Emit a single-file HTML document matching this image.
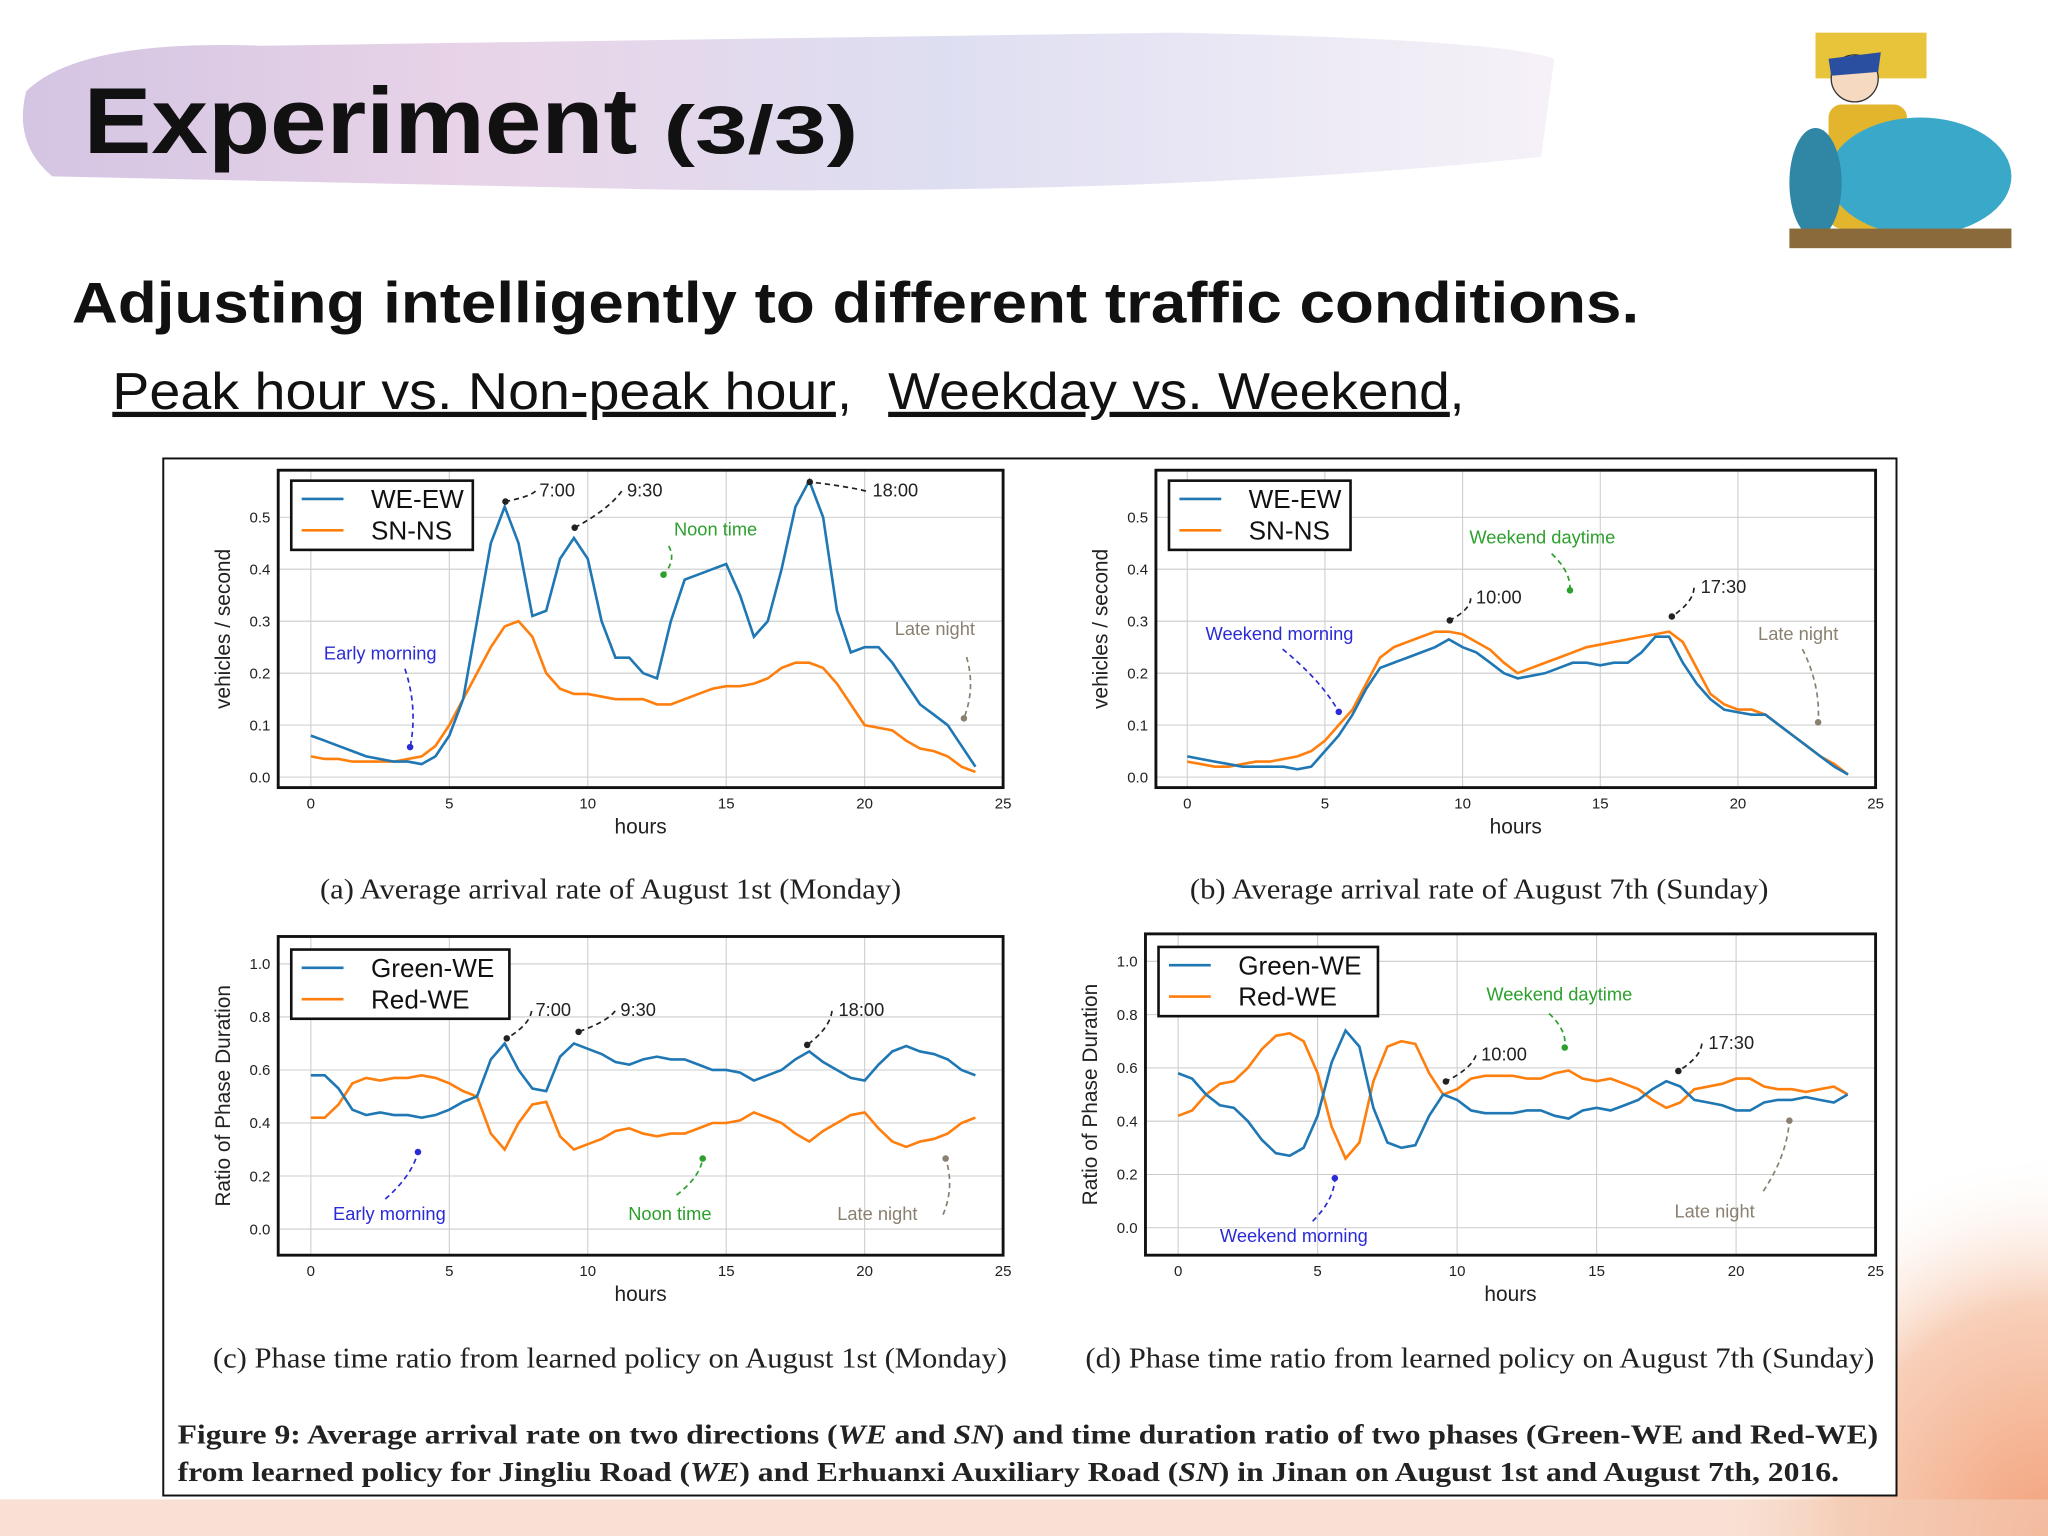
<!DOCTYPE html>
<html><head><meta charset="utf-8">
<style>
html,body{margin:0;padding:0;background:#fff;}
svg{display:block;}
</style></head>
<body>
<svg id="s" width="2048" height="1536" viewBox="0 0 1568 1176" xmlns="http://www.w3.org/2000/svg" font-family="Liberation Sans, sans-serif">
<defs>
<linearGradient id="ban" x1="0" y1="0" x2="1" y2="0">
<stop offset="0" stop-color="#c9b6dc"/><stop offset="0.3" stop-color="#e3c9e2"/><stop offset="0.6" stop-color="#d6d6ee"/><stop offset="1" stop-color="#f4eef6"/>
</linearGradient>
<radialGradient id="org" cx="1" cy="1" r="1">
<stop offset="0" stop-color="#f08a5a"/><stop offset="0.6" stop-color="#f6c4a8"/><stop offset="1" stop-color="#fff" stop-opacity="0"/>
</radialGradient>
</defs>
<rect width="1568" height="1176" fill="#fff"/>
<path d="M20,70 Q60,30 200,35 L900,25 Q1150,30 1190,45 L1180,120 Q900,150 500,145 L40,135 Q10,110 20,70Z" fill="url(#ban)" opacity="0.8"/>
<rect x="1300" y="880" width="268" height="296" fill="url(#org)" opacity="0.8"/>
<rect x="0" y="1148" width="1568" height="28" fill="#f3cdb7" opacity="0.6"/>
<g>
<rect x="1390" y="25" width="85" height="35" fill="#e8c43a"/>
<rect x="1400" y="80" width="60" height="95" rx="10" fill="#e3b52c"/>
<circle cx="1420" cy="60" r="18" fill="#f5d9c0" stroke="#333"/>
<path d="M1400,45 L1440,40 L1438,55 L1402,58Z" fill="#2b4fa0"/>
<ellipse cx="1470" cy="135" rx="70" ry="45" fill="#3aa9c9"/>
<ellipse cx="1390" cy="140" rx="20" ry="42" fill="#2f86a5"/>
<rect x="1370" y="175" width="170" height="15" fill="#8a6a3a"/>
</g>
<text x="64" y="117" font-size="72" font-weight="bold" fill="#111" textLength="424" lengthAdjust="spacingAndGlyphs">Experiment</text>
<text x="508" y="117" font-size="52" font-weight="bold" fill="#111" textLength="149" lengthAdjust="spacingAndGlyphs">(3/3)</text>
<text x="55" y="247" font-size="44" font-weight="bold" fill="#111" textLength="1200" lengthAdjust="spacingAndGlyphs">Adjusting intelligently to different traffic conditions.</text>
<text x="86" y="313" font-size="40" fill="#111" text-decoration="underline" textLength="554" lengthAdjust="spacingAndGlyphs">Peak hour vs. Non-peak hour</text>
<text x="641" y="313" font-size="40" fill="#111">,</text>
<text x="680" y="313" font-size="40" fill="#111" text-decoration="underline" textLength="430" lengthAdjust="spacingAndGlyphs">Weekday vs. Weekend</text>
<text x="1110" y="313" font-size="40" fill="#111">,</text>
<rect x="125" y="351" width="1327" height="794" fill="#fff" stroke="#111" stroke-width="1.5"/>
<g font-family="Liberation Serif, serif" font-size="21.5" fill="#222">
<text x="245" y="688" textLength="445" lengthAdjust="spacingAndGlyphs">(a) Average arrival rate of August 1st (Monday)</text>
<text x="911" y="688" textLength="443" lengthAdjust="spacingAndGlyphs">(b) Average arrival rate of August 7th (Sunday)</text>
<text x="163" y="1047" textLength="608" lengthAdjust="spacingAndGlyphs">(c) Phase time ratio from learned policy on August 1st (Monday)</text>
<text x="831" y="1047" textLength="604" lengthAdjust="spacingAndGlyphs">(d) Phase time ratio from learned policy on August 7th (Sunday)</text>
<text x="136" y="1105" font-size="21" font-weight="bold" textLength="1302" lengthAdjust="spacingAndGlyphs">Figure 9: Average arrival rate on two directions (<tspan font-style="italic">WE</tspan> and <tspan font-style="italic">SN</tspan>) and time duration ratio of two phases (Green-WE and Red-WE)</text>
<text x="136" y="1134" font-size="21" font-weight="bold" textLength="1272" lengthAdjust="spacingAndGlyphs">from learned policy for Jingliu Road (<tspan font-style="italic">WE</tspan>) and Erhuanxi Auxiliary Road (<tspan font-style="italic">SN</tspan>) in Jinan on August 1st and August 7th, 2016.</text>
</g>
<g id="charts"></g>
</svg>
<script>
const hours = [0,0.5,1,1.5,2,2.5,3,3.5,4,4.5,5,5.5,6,6.5,7,7.5,8,8.5,9,9.5,10,10.5,11,11.5,12,12.5,13,13.5,14,14.5,15,15.5,16,16.5,17,17.5,18,18.5,19,19.5,20,20.5,21,21.5,22,22.5,23,23.5,24];
const xTicks = [0,5,10,15,20,25];
const rateTicks = [0,0.1,0.2,0.3,0.4,0.5];
const ratioTicks = [0,0.2,0.4,0.6,0.8,1.0];
const aWE = [0.08,0.07,0.06,0.05,0.04,0.035,0.03,0.03,0.025,0.04,0.08,0.15,0.3,0.45,0.52,0.45,0.31,0.32,0.42,0.46,0.42,0.3,0.23,0.23,0.2,0.19,0.3,0.38,0.39,0.4,0.41,0.35,0.27,0.3,0.4,0.52,0.57,0.5,0.32,0.24,0.25,0.25,0.22,0.18,0.14,0.12,0.1,0.06,0.02];
const aSN = [0.04,0.035,0.035,0.03,0.03,0.03,0.03,0.035,0.04,0.06,0.1,0.15,0.2,0.25,0.29,0.3,0.27,0.2,0.17,0.16,0.16,0.155,0.15,0.15,0.15,0.14,0.14,0.15,0.16,0.17,0.175,0.175,0.18,0.19,0.21,0.22,0.22,0.21,0.18,0.14,0.1,0.095,0.09,0.07,0.055,0.05,0.04,0.02,0.01];
const bWE = [0.04,0.035,0.03,0.025,0.02,0.02,0.02,0.02,0.015,0.02,0.05,0.08,0.12,0.17,0.21,0.22,0.23,0.24,0.25,0.265,0.25,0.24,0.22,0.2,0.19,0.195,0.2,0.21,0.22,0.22,0.215,0.22,0.22,0.24,0.27,0.27,0.22,0.18,0.15,0.13,0.125,0.12,0.12,0.1,0.08,0.06,0.04,0.02,0.005];
const bSN = [0.03,0.025,0.02,0.02,0.025,0.03,0.03,0.035,0.04,0.05,0.07,0.1,0.13,0.18,0.23,0.25,0.26,0.27,0.28,0.28,0.275,0.26,0.245,0.22,0.2,0.21,0.22,0.23,0.24,0.25,0.255,0.26,0.265,0.27,0.275,0.28,0.26,0.21,0.16,0.14,0.13,0.13,0.12,0.1,0.08,0.06,0.04,0.025,0.005];
const cGreen = [0.58,0.58,0.53,0.45,0.43,0.44,0.43,0.43,0.42,0.43,0.45,0.48,0.5,0.64,0.7,0.6,0.53,0.52,0.65,0.7,0.68,0.66,0.63,0.62,0.64,0.65,0.64,0.64,0.62,0.6,0.6,0.59,0.56,0.58,0.6,0.64,0.67,0.63,0.6,0.57,0.56,0.62,0.67,0.69,0.67,0.66,0.64,0.6,0.58];
const cRed = [0.42,0.42,0.47,0.55,0.57,0.56,0.57,0.57,0.58,0.57,0.55,0.52,0.5,0.36,0.3,0.4,0.47,0.48,0.35,0.3,0.32,0.34,0.37,0.38,0.36,0.35,0.36,0.36,0.38,0.4,0.4,0.41,0.44,0.42,0.4,0.36,0.33,0.37,0.4,0.43,0.44,0.38,0.33,0.31,0.33,0.34,0.36,0.4,0.42];
const dGreen = [0.58,0.56,0.5,0.46,0.45,0.4,0.33,0.28,0.27,0.3,0.42,0.62,0.74,0.68,0.45,0.32,0.3,0.31,0.42,0.5,0.48,0.44,0.43,0.43,0.43,0.44,0.44,0.42,0.41,0.44,0.45,0.44,0.46,0.48,0.52,0.55,0.53,0.48,0.47,0.46,0.44,0.44,0.47,0.48,0.48,0.49,0.48,0.47,0.5];
const dRed = [0.42,0.44,0.5,0.54,0.55,0.6,0.67,0.72,0.73,0.7,0.58,0.38,0.26,0.32,0.55,0.68,0.7,0.69,0.58,0.5,0.52,0.56,0.57,0.57,0.57,0.56,0.56,0.58,0.59,0.56,0.55,0.56,0.54,0.52,0.48,0.45,0.47,0.52,0.53,0.54,0.56,0.56,0.53,0.52,0.52,0.51,0.52,0.53,0.5];

const NS='http://www.w3.org/2000/svg';
const root=document.getElementById('charts');
function mk(tag,attrs,parent){const e=document.createElementNS(NS,tag);for(const k in attrs)e.setAttribute(k,attrs[k]);(parent||root).appendChild(e);return e;}

const panels=[
 {id:'a',box:[213,360,768,603],x0:238,x25:768,y0:595,yMaxV:0.5,yMaxP:396,yt:rateTicks,s1:aWE,s2:aSN,l1:'WE-EW',l2:'SN-NS',ylab:'vehicles / second',lg:[223,368,362,421]},
 {id:'b',box:[885,360,1436,603],x0:909,x25:1436,y0:595,yMaxV:0.5,yMaxP:396,yt:rateTicks,s1:bWE,s2:bSN,l1:'WE-EW',l2:'SN-NS',ylab:'vehicles / second',lg:[895,368,1034,421]},
 {id:'c',box:[213,717,768,961],x0:238,x25:768,y0:941,yMaxV:1.0,yMaxP:738,yt:ratioTicks,s1:cGreen,s2:cRed,l1:'Green-WE',l2:'Red-WE',ylab:'Ratio of Phase Duration',lg:[223,727,390,780]},
 {id:'d',box:[877,715,1436,961],x0:902,x25:1436,y0:940,yMaxV:1.0,yMaxP:736,yt:ratioTicks,s1:dGreen,s2:dRed,l1:'Green-WE',l2:'Red-WE',ylab:'Ratio of Phase Duration',lg:[887,725,1055,778]}
];

panels.forEach(p=>{
 const g=mk('g',{});
 
 
 const xs=h=>p.x0+(p.x25-p.x0)*h/25;
 const ys=v=>p.y0-(p.y0-p.yMaxP)*v/p.yMaxV;
 const [bx1,by1,bx2,by2]=p.box;
 xTicks.forEach(t=>{const x=xs(t);if(x>bx1&&x<bx2){const l=mk('line',{x1:x,y1:by1,x2:x,y2:by2,stroke:'#ccc','stroke-width':0.8},g);}
  const tx=mk('text',{x:x,y:by2+16,'font-size':11.5,'text-anchor':'middle',fill:'#222'},g);tx.textContent=t;
  });
 p.yt.forEach(t=>{const y=ys(t);const l=mk('line',{x1:bx1,y1:y,x2:bx2,y2:y,stroke:'#ccc','stroke-width':0.8},g);
  
  const tx=mk('text',{x:bx1-6,y:y+4,'font-size':11.5,'text-anchor':'end',fill:'#222'},g);tx.textContent=t.toFixed(1);
  });
 const fr=mk('rect',{x:bx1,y:by1,width:bx2-bx1,height:by2-by1,fill:'none',stroke:'#111','stroke-width':2.2},g);
 
 const xl=mk('text',{x:(bx1+bx2)/2,y:by2+35,'font-size':16,'text-anchor':'middle',fill:'#222'},g);xl.textContent='hours';
 
 const cy=(by1+by2)/2, cx=bx1-37;
 const yl=mk('text',{x:cx,y:cy,'font-size':16,'text-anchor':'middle',fill:'#222',transform:`rotate(-90 ${cx} ${cy})`},g);yl.textContent=p.ylab;
 
 [[p.s2,'#ff7f0e'],[p.s1,'#1f77b4']].forEach(([s,c],i)=>{
  const d=s.map((v,k)=>(k?'L':'M')+xs(hours[k]).toFixed(1)+','+ys(v).toFixed(1)).join(' ');
  const pa=mk('path',{d:d,fill:'none',stroke:c,'stroke-width':2},g);
  
 });
 const [lx1,ly1,lx2,ly2]=p.lg;
 const lg=mk('g',{},g);
 mk('rect',{x:lx1,y:ly1,width:lx2-lx1,height:ly2-ly1,fill:'#fff',stroke:'#111','stroke-width':2},lg);
 [[p.l1,'#1f77b4'],[p.l2,'#ff7f0e']].forEach(([t,c],i)=>{
  const y=ly1+14+i*24;
  const ln=mk('line',{x1:lx1+8,y1:y,x2:lx1+40,y2:y,stroke:c,'stroke-width':2},lg);
  
  const tx=mk('text',{x:lx1+61,y:y+7,'font-size':20,fill:'#111'},lg);tx.textContent=t;
  
 });
});

const notes=[
 ['7:00',413,380,'#222',[[410,376],[387,384]]],['9:30',480,380,'#222',[[476,376],[440,404]]],['18:00',668,380,'#222',[[663,376],[620,369]]],
 ['Noon time',516,410,'#2ca02c',[[512,418],[508,440]]],['Early morning',248,505,'#2b2bd6',[[310,512],[314,572]]],['Late night',685,486,'#8a8070',[[740,503],[738,550]]],
 ['Weekend daytime',1125,416,'#2ca02c',[[1188,424],[1202,452]]],['10:00',1130,462,'#222',[[1126,458],[1110,475]]],['17:30',1302,454,'#222',[[1297,450],[1280,472]]],
 ['Weekend morning',923,490,'#2b2bd6',[[982,497],[1025,545]]],['Late night',1346,490,'#8a8070',[[1380,497],[1392,553]]],
 ['7:00',410,778,'#222',[[407,774],[388,795]]],['9:30',475,778,'#222',[[471,774],[443,790]]],['18:00',642,778,'#222',[[637,774],[618,800]]],
 ['Early morning',255,934,'#2b2bd6',[[295,918],[320,882]]],['Noon time',481,934,'#2ca02c',[[518,915],[538,887]]],['Late night',641,934,'#8a8070',[[722,930],[724,887]]],
 ['Weekend daytime',1138,766,'#2ca02c',[[1186,776],[1198,802]]],['10:00',1134,812,'#222',[[1130,808],[1107,828]]],['17:30',1308,803,'#222',[[1303,799],[1285,820]]],
 ['Weekend morning',934,951,'#2b2bd6',[[1005,935],[1022,902]]],['Late night',1282,932,'#8a8070',[[1350,912],[1370,858]]]
];
notes.forEach(([t,x,y,c,a])=>{
 const tx=mk('text',{x:x,y:y,'font-size':14,fill:c});tx.textContent=t;
 
 const ar=mk('path',{d:`M${a[0][0]},${a[0][1]} Q${(a[0][0]+a[1][0])/2+8},${(a[0][1]+a[1][1])/2} ${a[1][0]},${a[1][1]}`,fill:'none',stroke:c,'stroke-width':1.3,'stroke-dasharray':'4,3'});
 
 const hd=mk('circle',{cx:a[1][0],cy:a[1][1],r:2.5,fill:c});
 
});
</script>
</body></html>
